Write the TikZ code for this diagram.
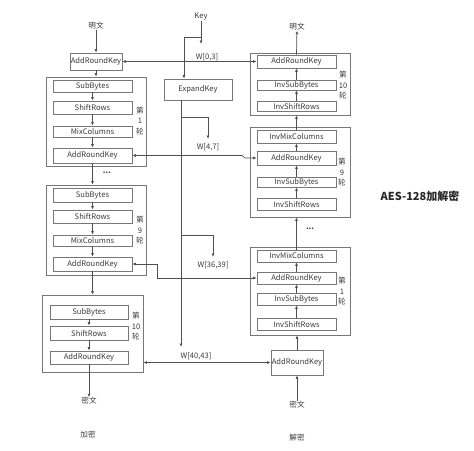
\documentclass[tikz,border=0pt]{standalone}
\usepackage{fontspec}
\setmainfont{Noto Sans CJK SC}
\usetikzlibrary{arrows.meta}
\definecolor{boxc}{HTML}{777777}
\definecolor{linec}{HTML}{505050}
\definecolor{txt}{HTML}{3A3A3A}
\begin{document}
\begin{tikzpicture}[x=1pt,y=-1pt,
 every node/.style={font=\fontsize{7.6}{8}\selectfont, text=txt, inner sep=0pt},
 blk/.style={draw=boxc, line width=0.7pt, minimum width=79pt},
 grp/.style={draw=boxc, line width=0.7pt, minimum width=100pt},
 lbl/.style={align=center, font=\fontsize{7.6}{10.5}\selectfont},
 ln/.style={draw=linec, line width=0.7pt},
 arr/.style={ln, -{Latex[length=3.5pt,width=3pt]}},
 darr/.style={ln, {Latex[length=3.5pt,width=3pt]}-{Latex[length=3.5pt,width=3pt]}},
]
\useasboundingbox (0,0) rectangle (474,450);
% ---------------- encryption ----------------
\node (ptE) at (96,26) {明文};
\node[blk, minimum width=52pt, minimum height=17pt] (ak0) at (96,61.5) {AddRoundKey};
\node[grp, minimum height=89pt] (r1) at (96,121.5) {};
\node[blk, minimum height=12pt] (sb1) at (92.5,86) {SubBytes};
\node[blk, minimum height=13pt] (sr1) at (92.5,107.5) {ShiftRows};
\node[blk, minimum height=11pt] (mc1) at (92.5,131.5) {MixColumns};
\node[blk, minimum height=15pt] (ak1) at (92.5,155.5) {AddRoundKey};
\node[lbl] (l1) at (140,121) {第\\1\\轮};
\node (dE) at (107,173) {\textbf{...}};
\node[grp, minimum height=90pt] (r9) at (96,230) {};
\node[blk, minimum height=14pt] (sb9) at (92.5,195) {SubBytes};
\node[blk, minimum height=13pt] (sr9) at (92.5,216.5) {ShiftRows};
\node[blk, minimum height=11pt] (mc9) at (92.5,240.5) {MixColumns};
\node[blk, minimum height=14pt] (ak9) at (92.5,264) {AddRoundKey};
\node[lbl] (l9) at (140,230.5) {第\\9\\轮};
\node[grp, minimum width=101pt, minimum height=77pt] (r10) at (92.5,333.5) {};
\node[blk, minimum width=78pt, minimum height=14pt] (sb10) at (89,312) {SubBytes};
\node[blk, minimum width=78pt, minimum height=14pt] (sr10) at (89,333) {ShiftRows};
\node[blk, minimum width=78pt, minimum height=13pt] (ak10) at (89,357.5) {AddRoundKey};
\node[lbl] (l10) at (136,326.5) {第\\10\\轮};
\node (ctE) at (89,401) {密文};
\node (enc) at (88,435) {加密};
\draw[arr] (ptE) -- (ak0);
\draw[arr] (ak0) -- (r1.north -| ak0);
\draw[arr] (sb1) -- (sr1);
\draw[arr] (sr1) -- (mc1);
\draw[arr] (mc1) -- (ak1);
\draw[arr] (ak1.south) -- (ak1.south |- r9.north);
\draw[arr] (sb9) -- (sr9);
\draw[arr] (sr9) -- (mc9);
\draw[arr] (mc9) -- (ak9);
\draw[arr] (ak9.south) -- (ak9.south |- r10.north);
\draw[arr] (sb10) -- (sr10);
\draw[arr] (sr10) -- (ak10);
\draw[arr] (ak10) -- (ctE);
% ---------------- key ----------------
\node (key) at (201,17) {Key};
\node[blk, minimum width=68pt, minimum height=21pt] (ek) at (198,89.5) {ExpandKey};
\coordinate (kt) at (201,44);
\coordinate (kb) at (201,37);
\coordinate (kl) at (184,37);
\draw[arr] (key) -- (kt);
\draw[arr] (kb) -- (kl) -- (kl |- ek.north);
\coordinate (eks) at (181,100);
\coordinate (eke) at (181,347);
\draw[arr] (eks) -- (eke);
\coordinate (b4a) at (181,117);
\coordinate (b4b) at (208,117);
\coordinate (b4c) at (208,139);
\draw[arr] (b4a) -- (b4b) -- (b4c);
\coordinate (b36a) at (181,235);
\coordinate (b36b) at (213,235);
\coordinate (b36c) at (213,257);
\draw[arr] (b36a) -- (b36b) -- (b36c);
\node (w0) at (207,57.5) {W[0,3]};
\node (w4) at (208,147.5) {W[4,7]};
\node (w36) at (213,265) {W[36,39]};
\node (w40) at (196,356) {W[40,43]};
% ---------------- decryption ----------------
\node (ptD) at (297,27) {明文};
\node[grp, minimum height=62pt] (dr10) at (300,84) {};
\node[blk, minimum height=13pt] (dak10) at (296.5,61.5) {AddRoundKey};
\node[blk, minimum height=10pt] (dsb10) at (296.5,85) {InvSubBytes};
\node[blk, minimum height=10pt] (dsr10) at (296.5,106) {InvShiftRows};
\node[lbl] (dl10) at (343,85.5) {第\\10\\轮};
\node[grp, minimum height=90pt] (dr9) at (300,172) {};
\node[blk, minimum height=13pt] (dmc9) at (296.5,136.5) {InvMixColumns};
\node[blk, minimum height=14pt] (dak9) at (296.5,158) {AddRoundKey};
\node[blk, minimum height=10pt] (dsb9) at (296.5,182) {InvSubBytes};
\node[blk, minimum height=12pt] (dsr9) at (296.5,204.5) {InvShiftRows};
\node[lbl] (dl9) at (342,172.5) {第\\9\\轮};
\node (dD) at (310,229) {\textbf{...}};
\node[grp, minimum height=88pt] (dr1) at (300,291) {};
\node[blk, minimum height=12pt] (dmc1) at (296.5,256) {InvMixColumns};
\node[blk, minimum height=12pt] (dak1) at (296.5,278) {AddRoundKey};
\node[blk, minimum height=12pt] (dsb1) at (296.5,299) {InvSubBytes};
\node[blk, minimum height=12pt] (dsr1) at (296.5,324) {InvShiftRows};
\node[lbl] (dl1) at (342,291.5) {第\\1\\轮};
\node[blk, minimum width=52pt, minimum height=25pt] (dakF) at (297,362.5) {AddRoundKey};
\node (ctD) at (297,405) {密文};
\node (dec) at (297,438) {解密};
\draw[arr] (ctD) -- (dakF);
\draw[arr] (dakF.north) -- (dakF.north |- dr1.south);
\draw[arr] (dsr1) -- (dsb1);
\draw[arr] (dsb1) -- (dak1);
\draw[arr] (dak1) -- (dmc1);
\draw[arr] (dmc1.north) -- (dmc1.north |- dr9.south);
\draw[arr] (dsr9) -- (dsb9);
\draw[arr] (dsb9) -- (dak9);
\draw[arr] (dak9) -- (dmc9);
\draw[arr] (dmc9.north) -- (dmc9.north |- dr10.south);
\draw[arr] (dsr10) -- (dsb10);
\draw[arr] (dsb10) -- (dak10);
\draw[arr] (dak10.north) -- (ptD);
% ---------------- round keys ----------------
\draw[darr] (ak0.east) -- (dak10.west);
\coordinate (j4a) at (242,155.5);
\coordinate (j4b) at (245,158);
\draw[darr] (ak1.east) -- (j4a) -- (j4b) -- (dak9.west);
\coordinate (j9a) at (157,264);
\coordinate (j9b) at (157,278);
\draw[darr] (ak9.east) -- (j9a) -- (j9b) -- (dak1.west);
\draw[darr] (r10.east |- dakF) -- (dakF.west);
\node[font=\fontsize{11}{13}\selectfont\bfseries, text=black!85] (title) at (420,196) {AES-128加解密};
\end{tikzpicture}
\end{document}
